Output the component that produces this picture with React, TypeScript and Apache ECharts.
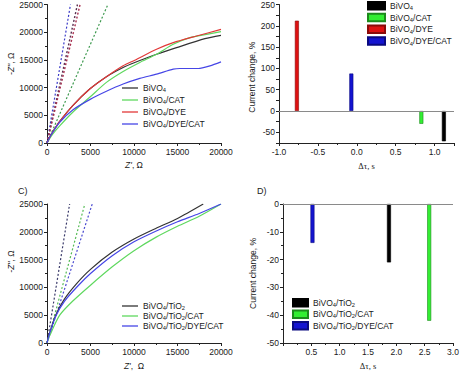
import React, { useEffect, useRef } from 'react';
import * as echarts from 'echarts';

type P = [number, number][];

// Panel A: Nyquist plots (Z', -Z'')
const bivo4A: P = [[0,0],[300,1000],[700,2100],[1460,3900],[2990,6800],[4910,9740],[6830,11960],[8750,13630],[10090,14530],[12590,16020],[14890,17220],[18150,18830],[20000,19430]];
const bivo4CatA: P = [[0,0],[300,800],[700,1700],[1460,3100],[2990,5600],[4910,8250],[6830,10940],[8750,12910],[10670,14530],[12590,16020],[14510,17810],[16430,19010],[18350,19610],[20000,20090]];
const bivo4DyeA: P = [[0,0],[300,1000],[700,2100],[1460,3900],[2990,6800],[4910,9740],[6830,11960],[8750,13930],[10090,14945],[12590,16920],[14510,18110],[17190,19310],[20000,20500]];
const bivo4DyeCatA: P = [[0,0],[300,1000],[700,2050],[1460,3750],[2990,6000],[4910,7830],[6830,9330],[8750,10640],[10670,11660],[12590,12430],[14510,13330],[15280,13450],[17390,13450],[18730,13930],[20000,14650]];
const dashBlueA: P = [[0,0],[2700,25000]];
const dashBlackA: P = [[0,0],[3500,25000]];
const dashRedA: P = [[0,0],[3800,25000]];
const dashGreenA: P = [[0,0],[7000,25000]];

// Panel B: current change vs delta tau
const barB_bivo4: P = [[1.12, -71]];
const barB_cat: P = [[0.83, -30]];
const barB_dye: P = [[-0.77, 212]];
const barB_dyeCat: P = [[-0.07, 88]];

// Panel C: Nyquist plots, TiO2 samples
const tio2C: P = [[0,0],[300,1800],[1000,5000],[2000,7900],[3380,10650],[5000,13250],[7500,16350],[10000,18700],[12500,20600],[15000,22400],[17960,25000]];
const tio2CatC: P = [[0,0],[300,1300],[1460,5000],[3000,7600],[5000,10400],[7500,13700],[10000,16600],[12500,19000],[15000,21000],[17500,22800],[20000,25000]];
const tio2DyeCatC: P = [[0,0],[300,1700],[1000,4800],[2000,7500],[3570,10300],[5000,12500],[7500,15700],[10000,18200],[12500,20100],[15000,21800],[17500,23300],[20000,25000]];
const dashBlackC: P = [[0,0],[2600,25000]];
const dashGreenC: P = [[0,0],[4350,25000]];
const dashBlueC: P = [[0,0],[5200,25000]];

// Panel D
const barD_tio2: P = [[1.87, -21]];
const barD_cat: P = [[2.58, -42]];
const barD_dyeCat: P = [[0.52, -14]];

const namesA = ['BiVO4', 'BiVO4/CAT', 'BiVO4/DYE', 'BiVO4/DYE/CAT'];
const namesB = ['BiVO4 ', 'BiVO4/CAT ', 'BiVO4/DYE ', 'BiVO4/DYE/CAT '];
const namesC = ['BiVO4/TiO2', 'BiVO4/TiO2/CAT', 'BiVO4/TiO2/DYE/CAT'];
const namesD = ['BiVO4/TiO2 ', 'BiVO4/TiO2/CAT ', 'BiVO4/TiO2/DYE/CAT '];

const SANS = 'Liberation Sans, Arial, sans-serif';
const SERIF = 'Liberation Serif, Times New Roman, serif';
const TXT = '#1a1a1a';

function richName(name: string) {
  const t = name.trim();
  return ('{n|' + t.replace(/(\d)/g, '}{s|$1}{n|') + '}').replace(/\{n\|\}/g, '');
}

function legendRich(lh: number, fs: number) {
  return {
    n: { fontSize: fs, fontFamily: SANS, color: TXT, lineHeight: lh, verticalAlign: 'middle' },
    s: { fontSize: fs * 0.68, fontFamily: SANS, color: TXT, verticalAlign: 'bottom' },
  };
}

const plain = (v: number) => String(v);

const axisCommon = {
  type: 'value' as const,
  splitLine: { show: false },
  axisLine: { show: true, onZero: false, lineStyle: { color: '#222', width: 1 } },
  axisTick: { show: true, length: 3, lineStyle: { color: '#222', width: 1 } },
  minorTick: { show: true, splitNumber: 2, length: 2, lineStyle: { color: '#222', width: 1 } },
  axisLabel: { fontSize: 8.5, color: TXT, fontFamily: SANS, margin: 4, formatter: plain },
  nameLocation: 'middle' as const,
};

const nameRich = {
  i: { fontSize: 8.5, fontFamily: SANS, fontStyle: 'italic', color: TXT },
  n: { fontSize: 8.5, fontFamily: SANS, color: TXT },
};

function lineSeries(name: string, data: P, color: string, x: number, dashed = false, width = 1.2) {
  return {
    type: 'line', name, data, xAxisIndex: x, yAxisIndex: x,
    symbol: 'none', showSymbol: false, smooth: dashed ? false : 0.25,
    lineStyle: { color, width, type: dashed ? [2, 2] : 'solid' },
    itemStyle: { color },
    silent: true,
  };
}

function barSeries(name: string, data: P, color: string, border: string, x: number, zeroLine = false) {
  const s: any = {
    type: 'bar', name, data, xAxisIndex: x, yAxisIndex: x,
    barWidth: 4, barGap: '-100%',
    itemStyle: { color, borderColor: border, borderWidth: 0.6 },
    silent: true,
  };
  if (zeroLine) {
    s.markLine = {
      silent: true, symbol: ['none', 'none'], label: { show: false },
      lineStyle: { color: '#8a8a8a', type: 'solid', width: 1.2 },
      data: [{ yAxis: 0 }],
    };
  }
  return s;
}

export default function App() {
  const ref = useRef<HTMLDivElement>(null);
  useEffect(() => {
    if (!ref.current) return;
    const chart = echarts.init(ref.current, undefined, { renderer: 'svg' });
    const option: any = {
      animation: false,
      backgroundColor: '#ffffff',
      grid: [
        { left: 47, top: 3, width: 174, height: 140 },
        { left: 279, top: 3, width: 175, height: 140 },
        { left: 47, top: 204, width: 174, height: 139 },
        { left: 283, top: 204, width: 170, height: 139 },
      ],
      xAxis: [
        { ...axisCommon, gridIndex: 0, min: 0, max: 20000, interval: 5000,
          name: "{i|Z'}{n|, Ω}", nameGap: 17, nameTextStyle: { rich: nameRich } },
        { ...axisCommon, gridIndex: 1, min: -1, max: 1.25, interval: 0.5,
          axisLabel: { ...axisCommon.axisLabel, formatter: (v: number) => (Math.abs(v * 2 - Math.round(v * 2)) < 1e-6 ? v.toFixed(1) : '') },
          name: 'Δτ, s', nameGap: 18, nameTextStyle: { fontSize: 8.5, fontFamily: SERIF, color: TXT } },
        { ...axisCommon, gridIndex: 2, min: 0, max: 20000, interval: 5000,
          name: "{i|Z'}{n|,  Ω}", nameGap: 18, nameTextStyle: { rich: nameRich } },
        { ...axisCommon, gridIndex: 3, min: 0, max: 3, interval: 0.5,
          axisLabel: { ...axisCommon.axisLabel, formatter: (v: number) => (v === 0 ? '' : v.toFixed(1)) },
          name: 'Δτ, s', nameGap: 18, nameTextStyle: { fontSize: 8.5, fontFamily: SERIF, color: TXT } },
      ],
      yAxis: [
        { ...axisCommon, gridIndex: 0, min: 0, max: 25000, interval: 5000,
          name: "{i|-Z''}{n|, Ω}", nameGap: 31, nameTextStyle: { rich: nameRich, padding: [0, 0, 0, 20] } },
        { ...axisCommon, gridIndex: 1, min: -75, max: 250, interval: 25, minorTick: { show: false },
          axisLabel: { ...axisCommon.axisLabel, formatter: (v: number) => (Math.round(v) % 50 === 0 ? String(v) : '') },
          name: 'Current change, %', nameGap: 23, nameTextStyle: { fontSize: 8.5, fontFamily: SANS, color: TXT, padding: [0, 7, 0, 0] } },
        { ...axisCommon, gridIndex: 2, min: 0, max: 25000, interval: 5000,
          name: "{i|-Z''}{n|, Ω}", nameGap: 28, nameTextStyle: { rich: nameRich, padding: [0, 0, 0, 24] } },
        { ...axisCommon, gridIndex: 3, min: -50, max: 0, interval: 10,
          name: 'Current change, %', nameGap: 26, nameTextStyle: { fontSize: 8.5, fontFamily: SANS, color: TXT } },
      ],
      legend: [
        { data: namesA, left: 122, top: 83.5, orient: 'vertical', padding: 0, icon: 'rect', itemWidth: 16, itemHeight: 1.3, itemGap: 2,
          formatter: richName, textStyle: { rich: legendRich(11, 8.5) } },
        { data: namesB, left: 367, top: 1, orient: 'vertical', padding: 0, icon: 'rect', itemWidth: 17, itemHeight: 7.5, itemGap: 1.5,
          formatter: richName, textStyle: { rich: legendRich(11, 8.5) } },
        { data: namesC, left: 122, top: 301.5, orient: 'vertical', padding: 0, icon: 'rect', itemWidth: 16, itemHeight: 1.3, itemGap: 0.5,
          formatter: richName, textStyle: { rich: legendRich(10, 8.5) } },
        { data: namesD, left: 292, top: 298, orient: 'vertical', padding: 0, icon: 'rect', itemWidth: 15, itemHeight: 7.5, itemGap: 1.7,
          formatter: richName, textStyle: { rich: legendRich(10, 8.5) } },
      ],
      graphic: [
        { type: 'text', left: 18, top: 186, style: { text: 'C)', font: '9px ' + SANS, fill: TXT } },
        { type: 'text', left: 257, top: 186, style: { text: 'D)', font: '9px ' + SANS, fill: TXT } },
      ],
      series: [
        lineSeries('dA-blue', dashBlueA, '#3b3bc8', 0, true),
        lineSeries('dA-black', dashBlackA, '#5a3050', 0, true, 1.4),
        lineSeries('dA-red', dashRedA, '#a83050', 0, true, 1.4),
        lineSeries('dA-green', dashGreenA, '#3f9a50', 0, true),
        lineSeries(namesA[0], bivo4A, '#333333', 0),
        lineSeries(namesA[1], bivo4CatA, '#5fd85f', 0),
        lineSeries(namesA[2], bivo4DyeA, '#e23838', 0),
        lineSeries(namesA[3], bivo4DyeCatA, '#4646e6', 0),

        barSeries(namesB[0], barB_bivo4, '#000000', '#000000', 1, true),
        barSeries(namesB[1], barB_cat, '#33ee33', '#1c8a1c', 1),
        barSeries(namesB[2], barB_dye, '#dd1111', '#8a0a0a', 1),
        barSeries(namesB[3], barB_dyeCat, '#1414d0', '#0a0a80', 1),

        lineSeries('dC-black', dashBlackC, '#3a3a6a', 2, true),
        lineSeries('dC-green', dashGreenC, '#55bb55', 2, true),
        lineSeries('dC-blue', dashBlueC, '#4a4ad0', 2, true),
        lineSeries(namesC[0], tio2C, '#333333', 2),
        lineSeries(namesC[1], tio2CatC, '#5fd85f', 2),
        lineSeries(namesC[2], tio2DyeCatC, '#4646e6', 2),

        barSeries(namesD[0], barD_tio2, '#000000', '#000000', 3, true),
        barSeries(namesD[1], barD_cat, '#33ee33', '#1c8a1c', 3),
        barSeries(namesD[2], barD_dyeCat, '#1414d0', '#0a0a80', 3),
      ],
    };
    chart.setOption(option);
    return () => chart.dispose();
  }, []);
  return (
    <div ref={ref} style={{ position: 'fixed', left: 0, top: 0, width: 474, height: 379, background: '#fff' }} />
  );
}
